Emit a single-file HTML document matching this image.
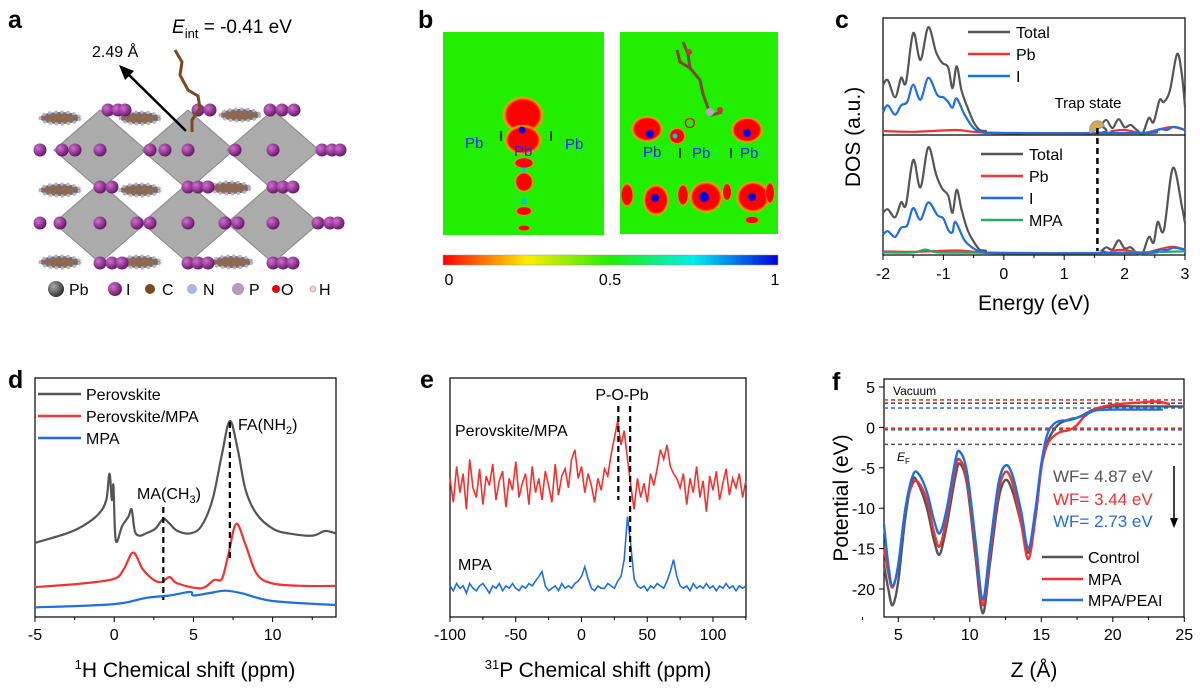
<!DOCTYPE html>
<html><head><meta charset="utf-8"><style>
html,body{margin:0;padding:0;background:#fff;}
svg{display:block;font-family:"Liberation Sans",Arial,sans-serif;}
</style></head><body>
<svg id="fig" width="1200" height="690" viewBox="0 0 1200 690" xmlns="http://www.w3.org/2000/svg">
<defs>
<radialGradient id="blob" cx="50%" cy="50%" r="50%"><stop offset="0.72" stop-color="#ff0000"/><stop offset="0.86" stop-color="#ff9900"/><stop offset="1" stop-color="#22ee00" stop-opacity="0"/></radialGradient>
<linearGradient id="cbar" x1="0" x2="1" y1="0" y2="0"><stop offset="0" stop-color="#ff0000"/><stop offset="0.25" stop-color="#ffee00"/><stop offset="0.5" stop-color="#22ee00"/><stop offset="0.75" stop-color="#00eeee"/><stop offset="1" stop-color="#0000dd"/></linearGradient>
<radialGradient id="pbg" cx="35%" cy="35%" r="65%"><stop offset="0" stop-color="#aaa"/><stop offset="1" stop-color="#333"/></radialGradient>
<radialGradient id="ig" cx="35%" cy="35%" r="65%"><stop offset="0" stop-color="#d070d0"/><stop offset="1" stop-color="#6a1a6a"/></radialGradient>
</defs>

<g>
<text x="8" y="28" font-size="25" font-weight="bold">a</text>
<text x="172" y="33" font-size="19"><tspan font-style="italic">E</tspan><tspan font-size="13" dy="5">int</tspan><tspan dy="-5"> = -0.41 eV</tspan></text>
<text x="92" y="57" font-size="16">2.49 Å</text>
<g id="octa"></g>
<line x1="186" y1="131" x2="126" y2="72" stroke="#000" stroke-width="2.5"/>
<polygon points="119,65 134,71 125,80" fill="#000"/>
<g font-size="16">
<circle cx="56" cy="289" r="8" fill="url(#pbg)"/><text x="69" y="295">Pb</text>
<circle cx="115" cy="289" r="7" fill="url(#ig)"/><text x="126" y="295">I</text>
<circle cx="150" cy="289" r="5" fill="#7a4a25"/><text x="162" y="295">C</text>
<circle cx="192" cy="289" r="5" fill="#aab4dd"/><text x="203" y="295">N</text>
<circle cx="238" cy="289" r="6" fill="#b79ab8"/><text x="249" y="295">P</text>
<circle cx="276" cy="289" r="4" fill="#ee0000"/><text x="281" y="295">O</text>
<circle cx="313" cy="289" r="3" fill="#f0d0d0" stroke="#c99" stroke-width="0.8"/><text x="319" y="295">H</text>
</g>
</g>

<g>
<text x="418" y="28" font-size="25" font-weight="bold">b</text>
<rect x="443" y="32" width="161" height="203" fill="#22ee00"/>
<rect x="620" y="32" width="158" height="202" fill="#22ee00"/>
<g>
<ellipse cx="523" cy="115" rx="22" ry="20" fill="url(#blob)"/>
<ellipse cx="523" cy="140" rx="20" ry="16" fill="url(#blob)"/>
<ellipse cx="524" cy="163" rx="11" ry="6" fill="url(#blob)"/>
<ellipse cx="524" cy="182" rx="10" ry="11" fill="url(#blob)"/>
<ellipse cx="524" cy="211" rx="9" ry="5" fill="url(#blob)"/>
<ellipse cx="524" cy="228" rx="7" ry="3" fill="url(#blob)"/>
<circle cx="522" cy="130" r="3.5" fill="#0000dd"/><circle cx="524" cy="201" r="3" fill="#00cccc"/><circle cx="524" cy="170" r="2.5" fill="#00cccc"/>
<ellipse cx="647" cy="129" rx="17" ry="14" fill="url(#blob)"/><circle cx="650" cy="134" r="4" fill="#0000dd"/>
<ellipse cx="677" cy="136" rx="9" ry="9" fill="url(#blob)"/><circle cx="675" cy="136" r="2.5" fill="#00cccc"/>
<ellipse cx="747" cy="130" rx="17" ry="14" fill="url(#blob)"/><circle cx="747" cy="133" r="4" fill="#0000dd"/>
<ellipse cx="627" cy="195" rx="7" ry="13" fill="url(#blob)"/>
<ellipse cx="656" cy="200" rx="14" ry="17" fill="url(#blob)"/><circle cx="655" cy="198" r="4" fill="#0000dd"/>
<ellipse cx="683" cy="195" rx="6" ry="12" fill="url(#blob)"/>
<ellipse cx="706" cy="197" rx="18" ry="17" fill="url(#blob)"/><circle cx="704" cy="197" r="5" fill="#0000dd"/>
<ellipse cx="727" cy="192" rx="5" ry="10" fill="url(#blob)"/>
<ellipse cx="753" cy="197" rx="18" ry="17" fill="url(#blob)"/><circle cx="752" cy="197" r="4" fill="#0000dd"/>
<ellipse cx="770" cy="193" rx="5" ry="12" fill="url(#blob)"/>
<ellipse cx="752" cy="220" rx="8" ry="4" fill="url(#blob)"/>
</g>
<g stroke="#7a4a35" stroke-width="3" fill="none">
<polyline points="683,42 688,54 690,68 700,80 703,94 708,108 712,115 722,112"/>
<polyline points="690,68 680,62 677,50"/>
<circle cx="689" cy="52" r="3" fill="#cc3333" stroke="none"/><circle cx="720" cy="110" r="3" fill="#cc3333" stroke="none"/><circle cx="710" cy="112" r="4" fill="#b9a5b9" stroke="none"/>
</g>
<g font-size="15">
<text x="465" y="148" fill="#1a2aee">Pb</text><text x="499" y="141">I</text><text x="514" y="156" fill="#1a2aee">Pb</text><text x="549" y="141">I</text><text x="565" y="149" fill="#1a2aee">Pb</text>
<text x="643" y="157" fill="#1a2aee">Pb</text><text x="678" y="158">I</text><text x="692" y="158" fill="#1a2aee">Pb</text><text x="729" y="158">I</text><text x="740" y="158" fill="#1a2aee">Pb</text>
<text x="684" y="128" fill="#ee0000">O</text>
</g>
<rect x="443" y="255" width="335" height="10" fill="url(#cbar)" stroke="#999" stroke-width="0.5"/>
<text x="449" y="285" font-size="16" text-anchor="middle">0</text>
<text x="610" y="285" font-size="16" text-anchor="middle">0.5</text>
<text x="775" y="285" font-size="16" text-anchor="middle">1</text>
</g>

<g id="pc">
<text x="835" y="28" font-size="25" font-weight="bold">c</text>
<rect x="883" y="18" width="302" height="237" fill="none" stroke="#000" stroke-width="1.2"/>
<line x1="883" y1="135" x2="1185" y2="135" stroke="#000" stroke-width="1.2"/>
<text transform="translate(860,137) rotate(-90)" font-size="21" text-anchor="middle">DOS (a.u.)</text>
<text x="1034" y="310" font-size="21" text-anchor="middle">Energy (eV)</text>
<text x="1088" y="108" font-size="15" text-anchor="middle">Trap state</text>
</g>

<g id="pd">
<text x="8" y="388" font-size="25" font-weight="bold">d</text>
<rect x="35" y="378" width="301" height="239" fill="none" stroke="#000" stroke-width="1.2"/>
<text x="185" y="677" font-size="21" text-anchor="middle"><tspan font-size="13" dy="-8">1</tspan><tspan dy="8">H Chemical shift (ppm)</tspan></text>
<text x="137" y="499" font-size="16">MA(CH<tspan font-size="11" dy="4">3</tspan><tspan dy="-4">)</tspan></text>
<text x="238" y="430" font-size="16">FA(NH<tspan font-size="11" dy="4">2</tspan><tspan dy="-4">)</tspan></text>
</g>

<g id="pe">
<text x="420" y="388" font-size="25" font-weight="bold">e</text>
<rect x="450" y="378" width="296" height="239" fill="none" stroke="#000" stroke-width="1.2"/>
<text x="598" y="677" font-size="21" text-anchor="middle"><tspan font-size="13" dy="-8">31</tspan><tspan dy="8">P Chemical shift (ppm)</tspan></text>
<text x="622" y="400" font-size="16" text-anchor="middle">P-O-Pb</text>
<text x="455" y="436" font-size="16">Perovskite/MPA</text>
<text x="458" y="570" font-size="16">MPA</text>
</g>

<g id="pf">
<text x="832" y="390" font-size="25" font-weight="bold">f</text>
<rect x="884" y="379" width="300" height="238" fill="none" stroke="#000" stroke-width="1.2"/>
<text transform="translate(848,498) rotate(-90)" font-size="21" text-anchor="middle">Potential (eV)</text>
<text x="1034" y="677" font-size="21" text-anchor="middle">Z (Å)</text>
<text x="893" y="395" font-size="12">Vacuum</text>
<text x="897" y="461" font-size="12"><tspan font-style="italic">E</tspan><tspan font-size="8" dy="3">F</tspan></text>
<text x="1053" y="482" font-size="17" fill="#555">WF= 4.87 eV</text>
<text x="1053" y="505" font-size="17" fill="#ee3333">WF= 3.44 eV</text>
<text x="1053" y="527" font-size="17" fill="#1f6fe0">WF= 2.73 eV</text>
<line x1="1174" y1="466" x2="1174" y2="520" stroke="#000" stroke-width="1.5"/>
<polygon points="1170,518 1178,518 1174,528" fill="#000"/>
</g>
</svg>

<script>
// ---------- Panel c data (Energy eV, DOS a.u.) ----------
const cTopTotalE = [-2,-1.92,-1.8,-1.7,-1.62,-1.5,-1.38,-1.25,-1.12,-1.02,-0.92,-0.85,-0.78,-0.7,-0.6,-0.5,-0.4,-0.3,-0.2,1.55,1.62,1.7,1.8,1.9,2.0,2.1,2.2,2.3,2.4,2.48,2.58,2.65,2.75,2.87,2.95,3.0];
const cTopTotalV = [41.7,46,31,48,44,87,63.5,92,70,61,57,39,58,37,22,9.6,2.6,1.7,0,0,7,11.3,4.3,12,5,7,2.6,0,13,9.6,28.7,27,37,68.7,50,22.6];
const cTopIE = [-2,-1.92,-1.8,-1.7,-1.6,-1.5,-1.38,-1.25,-1.1,-1.0,-0.92,-0.85,-0.78,-0.65,-0.5,-0.35,0,2.3,2.5,2.6,2.7,2.8,2.9,3];
const cTopIV = [18,24,16,24,27,42,29,48,33,31,27,22,30,16,4.3,1,0,0,1.7,3.5,2.6,5.2,4.5,2.6];
const cTopPbE = [-2,-1.5,-0.8,-0.5,0,1.6,1.8,2.0,2.3,2.6,2.8,3];
const cTopPbV = [1.7,1,2.6,1,0,0,1.7,2.6,0,3.5,5.2,2.6];
const cBotTotalE = [-2,-1.92,-1.8,-1.7,-1.62,-1.5,-1.38,-1.25,-1.12,-1.02,-0.92,-0.85,-0.78,-0.7,-0.6,-0.5,-0.4,-0.3,-0.2,1.55,1.62,1.7,1.8,1.9,2.0,2.1,2.2,2.3,2.4,2.48,2.55,2.65,2.8,2.95,3.0];
const cBotTotalV = [35,38,31,44,42,81,57,92,68,56,50,35,55,38,20,10,3,2,0,0,2,5,3,11,4,5,0,0,14,9,27,20,74,40,26];
const cBotIE = [-2,-1.92,-1.8,-1.7,-1.6,-1.5,-1.38,-1.25,-1.1,-1.0,-0.92,-0.85,-0.8,-0.65,-0.5,-0.35,0,2.3,2.5,2.6,2.7,2.8,2.9,3];
const cBotIV = [16,19,14,22,24,39,29,44,33,30,20,18,27,11,4,1,0,0,1.7,3,2.5,4.5,4,2.6];
const cBotPbE = [-2,-1.5,-0.8,-0.5,0,1.6,1.8,2.0,2.3,2.6,2.8,3];
const cBotPbV = [1.5,1,2.2,1,0,0,2,2.6,0,3.5,5.5,3];
const cBotMpaE = [-2,-1.5,-1.3,-1.1,-0.5,0,1.5,2.5,3];
const cBotMpaV = [0.5,0.5,3,0.5,0.3,0,0,0.8,1.5];
const cTicks = [-2,-1,0,1,2,3];
const cTrapE = 1.55;

// ---------- Panel d data (ppm, intensity a.u.) ----------
const dPerovP = [-5,-3,-2,-1,-0.5,-0.3,-0.15,-0.05,0.1,0.5,0.9,1.1,1.3,1.6,2.0,2.6,3.1,3.5,4.0,4.8,5.5,6.2,6.8,7.3,7.8,8.3,9,10,11,12.5,13.3,14];
const dPerovV = [31,35,38,43,49,60,49,55,32,38,42,45,36,34,35,37,41,39,36,35,38,49,68,82,70,53,43,37,35,34,36,35];
const dPmpaP = [-5,-2,0,0.6,1.2,1.8,2.5,3.0,3.5,4.0,5.5,6.3,6.8,7.2,7.7,8.3,9,10,12,14];
const dPmpaV = [12.5,14,16,20,27,20,15.5,14.6,16.7,14,12,15.5,16,26,39,30,18,14,13,13];
const dMpaP = [-5,0,2,3.5,4.8,5.0,6,7,8,10,14];
const dMpaV = [4,5.4,8,9,10.5,9,10,11,10,6.7,5];
const dTicks = [-5,0,5,10];
const dMarkMA = 3.1, dMarkFA = 7.3;

// ---------- Panel e data (ppm from -100 step 2.5, intensity a.u.) ----------
const eStart = -100, eStep = 2.5;
const ePmpaV = [58,48,63,52,60,45,66,54,50,62,47,59,55,64,49,57,61,46,58,53,65,50,56,60,47,63,52,58,49,61,55,48,64,51,59,62,54,
66,70,58,63,52,60,55,48,58,53,62,59,
68,75,82,72,78,66,55,
45,58,50,56,48,60,55,62,
70,66,72,63,60,58,
54,60,47,58,52,63,50,57,44,59,53,61,49,56,62,51,58,54,60,50,57];
const eMpaV = [13,11,14,12,13,10,14,12,11,13,14,12,10,13,12,14,11,13,12,14,12,11,13,12,14,13,15,
17,19,13,11,
12,13,11,14,12,13,12,14,15,17,
21,16,12,
11,13,12,12,14,13,12,15,17,
24,42,30,16,13,
12,13,11,13,12,14,13,12,15,
19,24,17,13,
12,13,11,14,12,13,12,14,12,13,11,13,12,14,12,13,11,13,12,13];
const eTicks = [-100,-50,0,50,100];
const eMark1 = 28, eMark2 = 37;

// ---------- Panel f data (Z Å, potential eV) ----------
const fCtrlZ = [4,4.3,4.6,5,5.5,6,6.4,7,7.5,7.9,8.4,9,9.3,9.8,10.4,10.9,11.4,12,12.5,13,13.6,14.1,14.6,15,15.4,15.8,16.3,17,17.5,18,18.8,20,22,25];
const fCtrlV = [-17,-20,-22,-19,-11,-6.5,-7,-10,-14,-15.7,-12,-6,-4.5,-7,-16,-23,-17,-9,-6.5,-8,-12,-15.5,-11,-5,-2,-0.5,0.5,1,1.2,1.6,2.3,2.6,2.6,2.6];
const fMpaZ = [4,4.3,4.6,5,5.5,6,6.4,7,7.5,7.9,8.4,9,9.3,9.8,10.4,10.9,11.4,12,12.5,13,13.6,14.1,14.6,15,15.4,15.8,16.3,17,17.5,18,18.8,20,22,23,24];
const fMpaV = [-15,-18,-19.8,-17,-10,-7,-6.8,-9,-13,-14.7,-11,-5,-4,-6.5,-15,-22,-16,-8,-5.5,-7,-12,-16.3,-11,-5,-2.2,-1.2,-0.6,-0.3,0.3,1.3,2.3,2.8,3.1,3.2,2.9];
const fPeaiZ = [4,4.3,4.6,5,5.5,6,6.4,7,7.5,7.9,8.4,9,9.3,9.8,10.4,10.9,11.4,12,12.5,13,13.6,14.1,14.6,15,15.4,15.8,16.3,17,17.5,18,18.8,20,22,23.5];
const fPeaiV = [-12,-17,-19.6,-17,-10,-6,-5.7,-8,-11.5,-13.1,-10,-4,-3,-5.5,-14,-21.3,-15,-7,-4.7,-6,-10.5,-15,-10,-4.5,-1,0.3,0.8,0.9,1.2,1.5,2.1,2.2,2.2,2.2];
const fLevelsV = [3.4,3.0,2.4,-0.1,-0.3,-2.1];
const fLevelColors = ['#ee3333','#555555','#1f6fe0','#ee3333','#1f6fe0','#555555'];
const fYTicks = [5,0,-5,-10,-15,-20];
const fXTicks = [5,10,15,20,25];

const NS = 'http://www.w3.org/2000/svg';
function mk(tag, parent){ const e=document.createElementNS(NS,tag); (parent||document.getElementById('fig')).appendChild(e); return e; }
function pathD(xs, ys, sx, sy){ let d=''; for(let i=0;i<xs.length;i++){ d+=(i?'L':'M')+sx(xs[i]).toFixed(1)+','+sy(ys[i]).toFixed(1);} return d; }
function smoothD(xs, ys, sx, sy){
  const P=xs.map((x,i)=>[sx(x),sy(ys[i])]); let d='M'+P[0][0].toFixed(1)+','+P[0][1].toFixed(1);
  for(let i=0;i<P.length-1;i++){ const p0=P[i-1]||P[i],p1=P[i],p2=P[i+1],p3=P[i+2]||p2;
    const c1x=p1[0]+(p2[0]-p0[0])/6,c1y=p1[1]+(p2[1]-p0[1])/6,c2x=p2[0]-(p3[0]-p1[0])/6,c2y=p2[1]-(p3[1]-p1[1])/6;
    d+='C'+c1x.toFixed(1)+','+c1y.toFixed(1)+' '+c2x.toFixed(1)+','+c2y.toFixed(1)+' '+p2[0].toFixed(1)+','+p2[1].toFixed(1);}
  return d; }

const xC=e=>883+(e+2)*60.4, yCt=v=>133-v*1.15, yCb=v=>253-v*1.15;
const xD=p=>35+(p+5)*(301/19), yD=v=>617-v*2.39;
const xE=p=>450+(p+100)*1.315, yE=v=>617-v*2.39;
const xF=z=>884+(z-4)*14.3, yF=v=>387-(v-5)*8.08;

const GR='#555555', RD='#ee3333', BL='#1f6fe0', GN='#2aa866';
let el;

// ---- panel a structure ----
(function(){
  const g=document.getElementById('octa');
  const cx=[100,188,273], cy=[150,223];
  cy.forEach(y=>cx.forEach(x=>{
    el=mk('polygon',g);
    
    
    el.setAttribute('points',(x-46)+','+y+' '+x+','+(y-40)+' '+(x+46)+','+y+' '+x+','+(y+40));
    el.setAttribute('fill','#666'); el.setAttribute('fill-opacity','0.55'); el.setAttribute('stroke','#888');
  }));
  const mols=[[60,118],[140,118],[240,115],[60,190],[140,190],[230,188],[60,262],[140,262],[232,262]];
  mols.forEach(m=>{
    el=mk('ellipse',g);
    
    
    el.setAttribute('cx',m[0]); el.setAttribute('cy',m[1]); el.setAttribute('rx',20); el.setAttribute('ry',6);
    el.setAttribute('fill','#8a6a55'); el.setAttribute('stroke','#aab4dd'); el.setAttribute('stroke-width','3'); el.setAttribute('stroke-dasharray','3 3');
  });
  const iAt=[[108,110],[118,110],[125,110],[198,110],[210,110],[270,110],[282,110],[294,110],[40,150],[62,150],[75,150],[100,150],[150,150],[165,150],[188,150],[235,150],[273,150],[322,150],[332,150],[340,150],
    [100,187],[112,187],[188,187],[198,187],[208,187],[273,187],[283,187],[293,187],[40,223],[60,223],[100,223],[137,223],[150,223],[188,223],[225,223],[238,223],[273,223],[318,223],[330,223],[338,223],
    [100,263],[112,263],[122,263],[188,263],[198,263],[208,263],[273,263],[283,263],[293,263]];
  iAt.forEach(a=>{
    el=mk('circle',g);
    
    
    el.setAttribute('cx',a[0]); el.setAttribute('cy',a[1]); el.setAttribute('r',6.5); el.setAttribute('fill','url(#ig)');
  });
  el=mk('polyline',g);
  
  
  el.setAttribute('points','175,50 182,62 180,75 188,90 198,96 200,108 192,120 192,132');
  el.setAttribute('fill','none'); el.setAttribute('stroke','#7a4a25'); el.setAttribute('stroke-width','3');
})();

// ---- panel c ----
(function(){
  const g=document.getElementById('pc');
  const series=[[cTopTotalE,cTopTotalV,yCt,GR,'dos-top-total'],[cTopPbE,cTopPbV,yCt,RD,'dos-top-pb'],[cTopIE,cTopIV,yCt,BL,'dos-top-i'],
    [cBotTotalE,cBotTotalV,yCb,GR,'dos-bottom-total'],[cBotPbE,cBotPbV,yCb,RD,'dos-bottom-pb'],[cBotMpaE,cBotMpaV,yCb,GN,'dos-bottom-mpa'],[cBotIE,cBotIV,yCb,BL,'dos-bottom-i']];
  series.forEach(s=>{
    el=mk('path',g);
    
    
    el.setAttribute('d',smoothD(s[0],s[1],xC,s[2])); el.setAttribute('fill','none'); el.setAttribute('stroke',s[3]); el.setAttribute('stroke-width','2.2');
  });
  const tx=xC(cTrapE);
  el=mk('path',g);
  
  
  el.setAttribute('d','M'+(tx-7)+',133 A7,8 0 1 1 '+(tx+7)+',126 Z'); el.setAttribute('fill','#d4aa50'); el.setAttribute('stroke','#999');
  el=mk('line',g);
  
  
  el.setAttribute('x1',tx); el.setAttribute('x2',tx); el.setAttribute('y1',128); el.setAttribute('y2',251);
  el.setAttribute('stroke','#000'); el.setAttribute('stroke-width','2.5'); el.setAttribute('stroke-dasharray','6 4');
  cTicks.forEach((t,i)=>{
    el=mk('line',g);
    
    
    el.setAttribute('x1',xC(t)); el.setAttribute('x2',xC(t)); el.setAttribute('y1',255); el.setAttribute('y2',260); el.setAttribute('stroke','#000');
    el=mk('text',g);
    
    
    el.setAttribute('x',xC(t)); el.setAttribute('y',279); el.setAttribute('font-size','16'); el.setAttribute('text-anchor','middle'); el.textContent=t;
    if(i<cTicks.length-1){
      el=mk('line',g);
      
      
      const m=xC(t+0.5); el.setAttribute('x1',m); el.setAttribute('x2',m); el.setAttribute('y1',255); el.setAttribute('y2',258); el.setAttribute('stroke','#000'); }
  });
  const legs=[[968,32,GR,'Total'],[968,54,RD,'Pb'],[968,76,BL,'I'],[981,154,GR,'Total'],[981,176,RD,'Pb'],[981,198,BL,'I'],[981,220,GN,'MPA']];
  legs.forEach(l=>{
    el=mk('line',g);
    
    
    el.setAttribute('x1',l[0]); el.setAttribute('x2',l[0]+42); el.setAttribute('y1',l[1]); el.setAttribute('y2',l[1]); el.setAttribute('stroke',l[2]); el.setAttribute('stroke-width','2.5');
    el=mk('text',g);
    
    
    el.setAttribute('x',l[0]+48); el.setAttribute('y',l[1]+6); el.setAttribute('font-size','16'); el.textContent=l[3];
  });
})();

// ---- panel d ----
(function(){
  const g=document.getElementById('pd');
  [[dPerovP,dPerovV,GR,'nmr-perovskite'],[dPmpaP,dPmpaV,RD,'nmr-perovskite-mpa'],[dMpaP,dMpaV,BL,'nmr-mpa']].forEach(s=>{
    el=mk('path',g);
    
    
    el.setAttribute('d',smoothD(s[0],s[1],xD,yD)); el.setAttribute('fill','none'); el.setAttribute('stroke',s[2]); el.setAttribute('stroke-width','2.2');
  });
  [[dMarkMA,507,600,'ma-dashed-line'],[dMarkFA,422,560,'fa-dashed-line']].forEach(m=>{
    el=mk('line',g);
    
    
    el.setAttribute('x1',xD(m[0])); el.setAttribute('x2',xD(m[0])); el.setAttribute('y1',m[1]); el.setAttribute('y2',m[2]);
    el.setAttribute('stroke','#000'); el.setAttribute('stroke-width','2.2'); el.setAttribute('stroke-dasharray','6 4');
  });
  dTicks.forEach(t=>{
    el=mk('line',g);
    
    
    el.setAttribute('x1',xD(t)); el.setAttribute('x2',xD(t)); el.setAttribute('y1',617); el.setAttribute('y2',622); el.setAttribute('stroke','#000');
    el=mk('line',g);
    
    
    el.setAttribute('x1',xD(t+2.5)); el.setAttribute('x2',xD(t+2.5)); el.setAttribute('y1',617); el.setAttribute('y2',620); el.setAttribute('stroke','#000');
    el=mk('text',g);
    
    
    el.setAttribute('x',xD(t)); el.setAttribute('y',640); el.setAttribute('font-size','16'); el.setAttribute('text-anchor','middle'); el.textContent=t;
  });
  [[394,GR,'Perovskite'],[416,RD,'Perovskite/MPA'],[438,BL,'MPA']].forEach(l=>{
    el=mk('line',g);
    
    
    el.setAttribute('x1',38); el.setAttribute('x2',81); el.setAttribute('y1',l[0]); el.setAttribute('y2',l[0]); el.setAttribute('stroke',l[1]); el.setAttribute('stroke-width','2.5');
    el=mk('text',g);
    
    
    el.setAttribute('x',86); el.setAttribute('y',l[0]+6); el.setAttribute('font-size','16'); el.textContent=l[2];
  });
})();

// ---- panel e ----
(function(){
  const g=document.getElementById('pe');
  const xsR=ePmpaV.map((v,i)=>eStart+i*eStep), xsB=eMpaV.map((v,i)=>eStart+i*eStep);
  el=mk('path',g);
  
  
  el.setAttribute('d',pathD(xsR,ePmpaV,xE,yE)); el.setAttribute('fill','none'); el.setAttribute('stroke',RD); el.setAttribute('stroke-width','1.6');
  el=mk('path',g);
  
  
  el.setAttribute('d',pathD(xsB,eMpaV,xE,yE)); el.setAttribute('fill','none'); el.setAttribute('stroke',BL); el.setAttribute('stroke-width','1.6');
  [[eMark1,406,500,'p-o-pb-dashed-line'],[eMark2,406,567,'mpa-peak-dashed-line']].forEach(m=>{
    el=mk('line',g);
    
    
    el.setAttribute('x1',xE(m[0])); el.setAttribute('x2',xE(m[0])); el.setAttribute('y1',m[1]); el.setAttribute('y2',m[2]);
    el.setAttribute('stroke','#000'); el.setAttribute('stroke-width','2.2'); el.setAttribute('stroke-dasharray','6 4');
  });
  eTicks.forEach(t=>{
    el=mk('line',g);
    
    
    el.setAttribute('x1',xE(t)); el.setAttribute('x2',xE(t)); el.setAttribute('y1',617); el.setAttribute('y2',622); el.setAttribute('stroke','#000');
    el=mk('line',g);
    
    
    el.setAttribute('x1',xE(t+25)); el.setAttribute('x2',xE(t+25)); el.setAttribute('y1',617); el.setAttribute('y2',620); el.setAttribute('stroke','#000');
    el=mk('text',g);
    
    
    el.setAttribute('x',xE(t)); el.setAttribute('y',640); el.setAttribute('font-size','16'); el.setAttribute('text-anchor','middle'); el.textContent=t;
  });
})();

// ---- panel f ----
(function(){
  const g=document.getElementById('pf');
  fLevelsV.forEach((v,i)=>{
    el=mk('line',g);
    
    
    el.setAttribute('x1',884); el.setAttribute('x2',1184); el.setAttribute('y1',yF(v)); el.setAttribute('y2',yF(v));
    el.setAttribute('stroke',fLevelColors[i]); el.setAttribute('stroke-width','1.6'); el.setAttribute('stroke-dasharray','4 3');
  });
  [[fCtrlZ,fCtrlV,GR,'potential-control'],[fMpaZ,fMpaV,RD,'potential-mpa'],[fPeaiZ,fPeaiV,BL,'potential-mpa-peai']].forEach(s=>{
    el=mk('path',g);
    
    
    el.setAttribute('d',smoothD(s[0],s[1],xF,yF)); el.setAttribute('fill','none'); el.setAttribute('stroke',s[2]); el.setAttribute('stroke-width','2.4');
  });
  fYTicks.forEach(t=>{
    el=mk('line',g);
    
    
    el.setAttribute('x1',879); el.setAttribute('x2',884); el.setAttribute('y1',yF(t)); el.setAttribute('y2',yF(t)); el.setAttribute('stroke','#000');
    el=mk('text',g);
    
    
    el.setAttribute('x',875); el.setAttribute('y',yF(t)+6); el.setAttribute('font-size','16'); el.setAttribute('text-anchor','end'); el.textContent=t;
  });
  fXTicks.forEach(t=>{
    el=mk('line',g);
    
    
    el.setAttribute('x1',xF(t)); el.setAttribute('x2',xF(t)); el.setAttribute('y1',617); el.setAttribute('y2',622); el.setAttribute('stroke','#000');
    el=mk('line',g);
    
    
    el.setAttribute('x1',xF(t-2.5)); el.setAttribute('x2',xF(t-2.5)); el.setAttribute('y1',617); el.setAttribute('y2',620); el.setAttribute('stroke','#000');
    el=mk('text',g);
    
    
    el.setAttribute('x',xF(t)); el.setAttribute('y',640); el.setAttribute('font-size','16'); el.setAttribute('text-anchor','middle'); el.textContent=t;
  });
  [[557,GR,'Control'],[579,RD,'MPA'],[600,BL,'MPA/PEAI']].forEach(l=>{
    el=mk('line',g);
    
    
    el.setAttribute('x1',1042); el.setAttribute('x2',1083); el.setAttribute('y1',l[0]); el.setAttribute('y2',l[0]); el.setAttribute('stroke',l[1]); el.setAttribute('stroke-width','2.5');
    el=mk('text',g);
    
    
    el.setAttribute('x',1088); el.setAttribute('y',l[0]+6); el.setAttribute('font-size','16'); el.textContent=l[2];
  });
})();
</script>
</body></html>
